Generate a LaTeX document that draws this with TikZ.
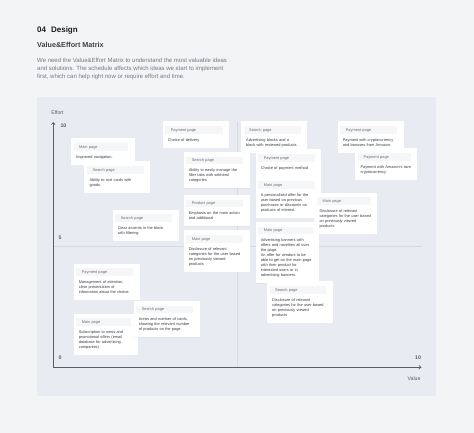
\documentclass[tikz,border=0pt]{standalone}
\usepackage{fontspec}
\setmainfont{Liberation Sans}
\usetikzlibrary{arrows.meta, positioning, shadows}
\definecolor{pageBg}{RGB}{243, 244, 246}
\definecolor{panelBg}{RGB}{232, 235, 241}
\definecolor{gridGray}{RGB}{214, 218, 226}
\definecolor{axisGray}{RGB}{88, 94, 108}
\definecolor{pillGray}{RGB}{245, 246, 248}
\definecolor{titleGray}{RGB}{105, 110, 120}
\definecolor{bodyText}{RGB}{58, 60, 66}
\definecolor{headText}{RGB}{28, 30, 34}
\definecolor{descText}{RGB}{118, 121, 128}

% card heading with its pale strip
\newcommand{\cardtitle}[1]{\hspace*{-2.7pt}{\setlength{\fboxsep}{0pt}\colorbox{pillGray}{\rule[-2.4pt]{0pt}{7.7pt}\makebox[\dimexpr\linewidth+1.6pt\relax][l]{\hspace*{5.7pt}\color{titleGray}#1}}}\\[3.6pt]}

\begin{document}
\begin{tikzpicture}[
    x=1pt, y=-1pt,
    font=\fontsize{6}{8.3}\selectfont,
    >={Straight Barb[length=2.2pt, width=3.8pt]},
    % Idea Card
    card/.style={
        fill=white,
        rectangle,
        anchor=north west,
        align=left,
        inner xsep=5.3pt,
        inner ysep=4.7pt,
        text=bodyText,
        font=\fontsize{3.9}{5}\selectfont,
        drop shadow={shadow xshift=0pt, shadow yshift=-0.6pt, opacity=0.07},
        execute at end node={\rule[-1.8pt]{0pt}{1.8pt}}
    },
    % Axis Line
    axis/.style={
        draw=axisGray,
        ->,
        line width=0.6pt
    },
    % Quadrant Divider
    divider/.style={
        draw=gridGray,
        line width=0.5pt
    },
    % Axis Text
    axislabel/.style={
        inner sep=0pt,
        text=axisGray,
        font=\fontsize{5.2}{6}\selectfont
    },
    ticklabel/.style={
        inner sep=0pt,
        text=axisGray,
        font=\fontsize{5.2}{6}\selectfont\bfseries
    }
]

    \useasboundingbox (0,0) rectangle (474,433);
    \fill[pageBg] (0,0) rectangle (474,433);

    % Header
    \node (heading) [anchor=west, inner sep=0pt, text=headText, font=\fontsize{8}{9}\selectfont\bfseries] at (37,30) {04\hspace{5pt}Design};
    \node (subheading) [anchor=west, inner sep=0pt, text=headText!85, font=\fontsize{7.2}{8}\selectfont\bfseries] at (37,45) {Value\&Effort Matrix};
    \node (intro) [anchor=north west, inner sep=0pt, align=left, text=descText] at (37,57.5) {
        We need the Value\&Effort Matrix to understand the most valuable ideas\\
        and solutions. The schedule affects which ideas we start to implement\\
        first, which can help right now or require effort and time.};

    % Matrix panel
    \fill[panelBg] (36.7,97) rectangle (435.5,395.5);

    \coordinate (origin) at (53.3,367.3);
    \coordinate (effortTop) at (53.3,122);
    \coordinate (valueEnd) at (421.5,367.3);
    \coordinate (midTop) at (237.3,122);
    \coordinate (midBottom) at (237.3,367.3);
    \coordinate (midLeft) at (53.3,246);
    \coordinate (midRight) at (421.5,246);

    \draw [divider] (midTop) -- (midBottom);
    \draw [divider] (midLeft) -- (midRight);

    % Ideas
    \node (delivery) [card, text width=55.8pt] at (162.3,121) {\cardtitle{Payment page}Choice of delivery};
    \node (adBlocks) [card, text width=55.4pt] at (240.7,121) {\cardtitle{Search page}Advertising blocks and a\\block with reviewed products.};
    \node (cryptoBonus) [card, text width=55.4pt] at (337.3,121) {\cardtitle{Payment page}Payment with cryptocurrency\\and bonuses from Amazon.};
    \node (cryptoOwn) [card, text width=51.4pt] at (355,148.3) {\cardtitle{Payment page}Payment with Amazon's own\\cryptocurrency};
    \node (navigation) [card, text width=53pt] at (70.7,138.3) {\cardtitle{Main page}Improved navigation.};
    \node (sortCards) [card, text width=55.4pt] at (84,161) {\cardtitle{Search page}Ability to sort cards with\\goods.};
    \node (filterTabs) [card, text width=55.4pt] at (183.3,151.7) {\cardtitle{Search page}Ability to easily manage the\\filter tabs with selected\\categories};
    \node (payMethod) [card, text width=55.1pt] at (255.3,149) {\cardtitle{Payment page}Choice of payment method};
    \node (personalOffer) [card, text width=55.1pt] at (255.3,176) {\cardtitle{Main page}A personalized offer for the\\user based on previous\\purchases or discounts on\\products of interest.};
    \node (mainDisclosure) [card, text width=52.4pt] at (314,192.3) {\cardtitle{Main page}Disclosure of relevant\\categories for the user based\\on previously viewed\\products};
    \node (emphasis) [card, text width=55.4pt] at (183.3,194.7) {\cardtitle{Product page}Emphasis on the main action\\and additional};
    \node (accents) [card, text width=55.4pt] at (112.3,209.3) {\cardtitle{Search page}Clear accents in the block\\with filtering};
    \node (mainCategories) [card, text width=55.4pt] at (183.3,230) {\cardtitle{Main page}Disclosure of relevant\\categories for the user based\\on previously viewed\\products};
    \node (banners) [card, text width=52.8pt] at (255.3,221.7) {\cardtitle{Main page}Advertising banners with\\offers and novelties all over\\the page.\\An offer for vendors to be\\able to get on the main page\\with their product for\\interested users or in\\advertising banners.};
    \node (searchDisclosure) [card, text width=55pt] at (266.7,281) {\cardtitle{Search page}Disclosure of relevant\\categories for the user based\\on previously viewed\\products};
    \node (attention) [card, text width=55.4pt] at (73.3,263.3) {\cardtitle{Payment page}Management of attention,\\clear presentation of\\information about the choice.};
    \node (subscription) [card, text width=53.4pt] at (73.3,313.3) {\cardtitle{Main page}Subscription to news and\\promotional offers (email\\database for advertising\\companies)};
    \node (cardAreas) [card, text width=55.4pt] at (133.3,300.7) {\cardtitle{Search page}Areas and number of cards,\\showing the relevant number\\of products on the page.};

    % Axes
    \draw [axis] (origin) -- (effortTop);
    \draw [axis] (origin) -- (valueEnd);

    \node (effortName) [axislabel] at (57.5,113) {Effort};
    \node (yTen) [ticklabel] at (63.5,126) {10};
    \node (yFive) [ticklabel] at (60,238) {5};
    \node (yZero) [ticklabel] at (60,358) {0};
    \node (xTen) [ticklabel] at (418,358) {10};
    \node (valueName) [axislabel] at (414,379) {Value};

\end{tikzpicture}
\end{document}
